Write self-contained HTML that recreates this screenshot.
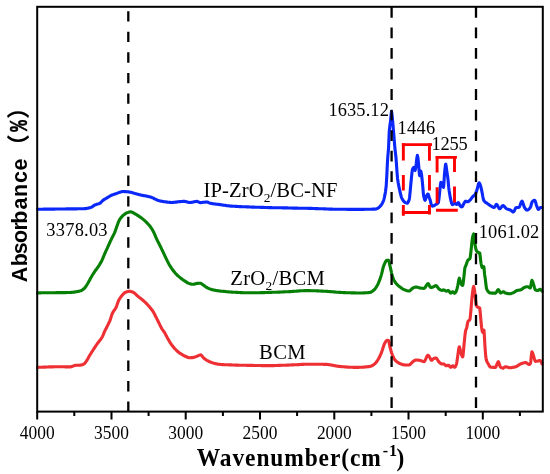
<!DOCTYPE html>
<html><head><meta charset="utf-8"><title>FTIR spectra</title>
<style>
html,body{margin:0;padding:0;background:#fff;}
body{width:550px;height:474px;overflow:hidden;}
svg{display:block;}
.ser{font-family:"Liberation Serif","Noto Serif CJK SC",serif;fill:#000;}
.san{font-family:"Liberation Sans","Noto Sans CJK SC",sans-serif;fill:#000;font-weight:bold;}
</style></head><body>
<svg width="550" height="474" viewBox="0 0 550 474">
<rect width="550" height="474" fill="#fff"/>

<g fill="none" stroke-linejoin="round" stroke-linecap="round" stroke-width="3.1">
<path stroke="#ee3034" d="M37.6,367.4 L38.2,367.4 L38.8,367.3 L39.4,367.3 L40.0,367.3 L40.6,367.3 L41.2,367.2 L41.8,367.2 L42.4,367.2 L43.0,367.1 L43.6,367.1 L44.2,367.1 L44.8,367.1 L45.4,367.1 L46.0,367.0 L46.6,367.0 L47.2,367.0 L47.8,367.0 L48.4,367.0 L49.0,366.9 L49.6,366.9 L50.2,366.9 L50.8,366.9 L51.4,366.9 L52.0,366.9 L52.6,366.9 L53.2,366.9 L53.8,366.8 L54.4,366.8 L55.0,366.8 L55.6,366.8 L56.2,366.8 L56.8,366.8 L57.4,366.8 L58.0,366.8 L58.6,366.8 L59.2,366.8 L59.8,366.8 L60.0,366.8 L60.4,366.8 L61.0,366.8 L61.6,366.8 L62.2,366.8 L62.8,366.8 L63.4,366.8 L64.0,366.8 L64.6,366.8 L65.2,366.9 L65.8,366.9 L66.4,366.9 L67.0,366.9 L67.6,366.9 L68.2,366.9 L68.8,366.9 L69.4,366.9 L70.0,366.9 L70.0,366.9 L70.6,366.9 L71.2,366.7 L71.8,366.6 L72.4,366.3 L73.0,366.1 L73.6,365.9 L74.2,365.7 L74.8,365.5 L75.4,365.3 L75.8,365.3 L76.0,365.3 L76.6,365.3 L77.2,365.2 L77.8,365.2 L78.4,365.2 L79.0,365.2 L79.6,365.2 L80.2,365.1 L80.8,365.1 L80.9,365.1 L81.4,365.0 L82.0,364.9 L82.6,364.6 L83.2,364.3 L83.8,364.0 L83.8,364.0 L84.4,363.6 L85.0,362.9 L85.6,362.2 L86.2,361.4 L86.7,360.7 L86.8,360.6 L87.4,359.5 L88.0,358.4 L88.6,357.2 L88.9,356.7 L89.2,356.2 L89.8,355.2 L90.4,354.2 L91.0,353.3 L91.6,352.3 L91.8,352.0 L92.2,351.4 L92.8,350.5 L93.4,349.5 L94.0,348.6 L94.6,347.7 L94.7,347.6 L95.2,346.8 L95.8,345.9 L96.4,345.0 L97.0,344.1 L97.6,343.3 L97.6,343.3 L98.2,342.5 L98.8,341.8 L99.4,341.0 L100.0,340.3 L100.5,339.6 L100.6,339.5 L101.2,338.6 L101.8,337.7 L102.2,337.0 L102.4,336.6 L103.0,335.3 L103.6,333.8 L104.2,332.3 L104.5,331.6 L104.8,331.0 L105.4,329.8 L106.0,328.7 L106.6,327.6 L107.2,326.4 L107.5,325.8 L107.8,325.2 L108.4,323.9 L109.0,322.6 L109.6,321.3 L110.2,319.8 L110.4,319.3 L110.8,318.1 L111.4,316.1 L112.0,314.3 L112.3,313.5 L112.6,312.9 L113.2,311.8 L113.6,311.2 L113.8,310.9 L114.4,310.0 L115.0,309.2 L115.6,308.3 L116.0,307.6 L116.2,307.2 L116.8,305.6 L117.4,303.8 L118.0,302.0 L118.5,300.8 L118.6,300.6 L119.2,299.5 L119.8,298.5 L120.4,297.6 L121.0,296.8 L121.6,296.0 L121.6,296.0 L122.2,295.3 L122.8,294.6 L123.4,293.9 L124.0,293.3 L124.6,292.8 L125.2,292.4 L125.3,292.4 L125.8,292.2 L126.4,292.0 L127.0,291.8 L127.6,291.6 L128.2,291.4 L128.8,291.4 L129.4,291.3 L129.6,291.3 L130.0,291.3 L130.6,291.4 L131.2,291.6 L131.8,291.8 L132.4,292.0 L133.0,292.3 L133.3,292.4 L133.6,292.5 L134.2,292.9 L134.8,293.4 L135.4,293.9 L136.0,294.5 L136.6,295.1 L137.2,295.7 L137.6,296.0 L137.8,296.2 L138.4,296.6 L139.0,297.1 L139.6,297.6 L140.2,298.1 L140.8,298.5 L141.0,298.7 L141.4,299.0 L142.0,299.5 L142.6,300.0 L143.2,300.5 L143.8,301.0 L144.4,301.6 L145.0,302.1 L145.1,302.2 L145.6,302.7 L146.2,303.3 L146.8,303.9 L147.4,304.5 L148.0,305.2 L148.6,305.9 L149.2,306.5 L149.5,306.9 L149.8,307.3 L150.4,308.0 L151.0,308.7 L151.6,309.5 L152.2,310.3 L152.8,311.1 L153.1,311.6 L153.4,312.1 L154.0,313.2 L154.6,314.3 L155.2,315.5 L155.8,316.7 L156.0,317.1 L156.4,317.9 L157.0,319.1 L157.6,320.3 L158.2,321.5 L158.8,322.7 L158.9,322.9 L159.4,323.9 L160.0,325.2 L160.6,326.4 L161.2,327.6 L161.8,328.7 L162.0,329.0 L162.4,329.6 L163.0,330.4 L163.6,331.2 L164.2,332.0 L164.5,332.5 L164.8,333.0 L165.4,334.0 L166.0,335.2 L166.6,336.3 L167.2,337.5 L167.8,338.6 L168.1,339.1 L168.4,339.6 L169.0,340.6 L169.6,341.7 L170.2,342.7 L170.8,343.6 L171.4,344.5 L171.7,344.9 L172.0,345.3 L172.6,346.1 L173.2,346.8 L173.8,347.6 L174.4,348.2 L175.0,348.9 L175.6,349.5 L176.1,350.0 L176.2,350.1 L176.8,350.7 L177.4,351.2 L178.0,351.7 L178.6,352.2 L179.2,352.7 L179.8,353.1 L180.4,353.5 L180.5,353.6 L181.0,353.9 L181.6,354.3 L182.2,354.7 L182.8,355.0 L183.4,355.4 L184.0,355.7 L184.6,356.0 L185.2,356.3 L185.3,356.3 L185.8,356.5 L186.4,356.8 L187.0,357.0 L187.6,357.3 L188.2,357.5 L188.8,357.6 L189.4,357.7 L189.6,357.7 L190.0,357.7 L190.6,357.7 L191.2,357.6 L191.8,357.6 L192.4,357.6 L193.0,357.5 L193.0,357.5 L193.6,357.4 L194.2,357.3 L194.8,357.1 L195.4,356.8 L196.0,356.6 L196.6,356.4 L196.6,356.4 L197.2,356.2 L197.8,355.9 L198.4,355.6 L199.0,355.3 L199.6,355.1 L200.2,354.9 L200.6,354.9 L200.8,354.9 L201.4,355.3 L202.0,355.9 L202.6,356.7 L203.2,357.5 L203.8,358.1 L203.9,358.2 L204.4,358.6 L205.0,359.0 L205.6,359.5 L206.2,359.9 L206.8,360.3 L207.4,360.6 L208.0,360.9 L208.3,361.1 L208.6,361.2 L209.2,361.5 L209.8,361.8 L210.4,362.1 L211.0,362.3 L211.6,362.5 L212.2,362.7 L212.8,362.9 L213.4,363.1 L214.0,363.3 L214.1,363.3 L214.6,363.4 L215.2,363.6 L215.8,363.7 L216.4,363.8 L217.0,364.0 L217.6,364.1 L218.2,364.2 L218.8,364.3 L219.4,364.3 L219.9,364.4 L220.0,364.4 L220.6,364.5 L221.2,364.5 L221.8,364.5 L222.4,364.6 L223.0,364.6 L223.6,364.6 L224.2,364.7 L224.8,364.7 L225.0,364.7 L225.4,364.7 L226.0,364.7 L226.6,364.8 L227.2,364.8 L227.8,364.8 L228.4,364.8 L229.0,364.9 L229.6,364.9 L230.0,364.9 L230.2,364.9 L230.8,364.9 L231.4,364.9 L232.0,365.0 L232.6,365.0 L233.2,365.0 L233.8,365.0 L234.4,365.0 L235.0,365.1 L235.6,365.1 L236.2,365.1 L236.8,365.1 L237.4,365.1 L238.0,365.1 L238.6,365.2 L239.2,365.2 L239.8,365.2 L240.4,365.2 L241.0,365.2 L241.6,365.2 L242.2,365.2 L242.8,365.3 L243.4,365.3 L244.0,365.3 L244.6,365.3 L245.2,365.3 L245.8,365.3 L246.4,365.3 L247.0,365.4 L247.6,365.4 L248.2,365.4 L248.8,365.4 L249.4,365.4 L250.0,365.4 L250.0,365.4 L250.6,365.4 L251.2,365.4 L251.8,365.4 L252.4,365.4 L253.0,365.4 L253.6,365.5 L254.2,365.5 L254.8,365.5 L255.4,365.5 L256.0,365.5 L256.6,365.5 L257.2,365.5 L257.8,365.5 L258.4,365.5 L259.0,365.5 L259.6,365.5 L260.2,365.5 L260.8,365.5 L261.4,365.6 L262.0,365.6 L262.6,365.6 L263.2,365.6 L263.8,365.6 L264.4,365.6 L265.0,365.6 L265.6,365.6 L266.2,365.6 L266.8,365.6 L267.4,365.6 L268.0,365.6 L268.6,365.6 L269.2,365.6 L269.8,365.6 L270.0,365.6 L270.4,365.6 L271.0,365.6 L271.6,365.6 L272.2,365.6 L272.8,365.6 L273.4,365.6 L274.0,365.6 L274.6,365.5 L275.2,365.5 L275.8,365.5 L276.4,365.5 L277.0,365.5 L277.6,365.5 L278.2,365.4 L278.8,365.4 L279.4,365.4 L280.0,365.4 L280.6,365.4 L281.2,365.3 L281.8,365.3 L282.4,365.3 L283.0,365.3 L283.6,365.2 L284.2,365.2 L284.8,365.2 L285.4,365.2 L286.0,365.2 L286.6,365.1 L287.2,365.1 L287.8,365.1 L288.4,365.1 L289.0,365.0 L289.6,365.0 L290.0,365.0 L290.2,365.0 L290.8,365.0 L291.4,364.9 L292.0,364.9 L292.6,364.9 L293.2,364.9 L293.8,364.8 L294.4,364.8 L295.0,364.8 L295.6,364.7 L296.2,364.7 L296.8,364.7 L297.4,364.7 L298.0,364.6 L298.6,364.6 L299.2,364.6 L299.8,364.5 L300.4,364.5 L301.0,364.5 L301.6,364.4 L302.2,364.4 L302.8,364.4 L303.4,364.4 L304.0,364.3 L304.6,364.3 L305.2,364.3 L305.8,364.3 L306.4,364.3 L307.0,364.2 L307.6,364.2 L308.2,364.2 L308.8,364.2 L309.4,364.2 L310.0,364.2 L310.0,364.2 L310.6,364.2 L311.2,364.2 L311.8,364.2 L312.4,364.2 L313.0,364.2 L313.6,364.2 L314.2,364.2 L314.8,364.2 L315.4,364.2 L316.0,364.2 L316.6,364.2 L317.2,364.2 L317.8,364.3 L318.4,364.3 L319.0,364.3 L319.6,364.3 L320.2,364.3 L320.8,364.3 L321.4,364.3 L322.0,364.3 L322.6,364.3 L323.2,364.3 L323.8,364.4 L324.4,364.4 L325.0,364.4 L325.6,364.4 L326.0,364.4 L326.2,364.4 L326.8,364.4 L327.4,364.5 L328.0,364.5 L328.6,364.6 L329.2,364.7 L329.8,364.8 L330.4,364.9 L331.0,365.0 L331.6,365.1 L332.2,365.2 L332.8,365.3 L333.4,365.4 L334.0,365.5 L334.6,365.7 L335.2,365.8 L335.8,365.9 L336.4,366.0 L337.0,366.1 L337.6,366.2 L338.2,366.3 L338.8,366.4 L339.4,366.4 L340.0,366.5 L340.0,366.5 L340.6,366.5 L341.2,366.6 L341.8,366.6 L342.4,366.7 L343.0,366.7 L343.6,366.8 L344.2,366.8 L344.8,366.9 L345.4,366.9 L346.0,367.0 L346.6,367.0 L347.2,367.1 L347.8,367.1 L348.4,367.1 L349.0,367.2 L349.6,367.2 L350.2,367.2 L350.8,367.3 L351.4,367.3 L352.0,367.3 L352.6,367.3 L353.2,367.4 L353.8,367.4 L354.4,367.4 L355.0,367.4 L355.6,367.4 L356.0,367.4 L356.2,367.4 L356.8,367.4 L357.4,367.4 L358.0,367.4 L358.6,367.4 L359.2,367.3 L359.8,367.3 L360.4,367.3 L361.0,367.3 L361.6,367.2 L362.2,367.2 L362.8,367.2 L363.4,367.1 L364.0,367.1 L364.6,367.0 L365.2,367.0 L365.8,366.9 L366.4,366.9 L367.0,366.8 L367.6,366.7 L368.2,366.6 L368.8,366.6 L369.4,366.5 L370.0,366.4 L370.0,366.4 L370.6,366.3 L371.2,366.1 L371.8,365.8 L372.4,365.5 L373.0,365.1 L373.6,364.7 L374.2,364.2 L374.8,363.8 L375.0,363.6 L375.4,363.2 L376.0,362.6 L376.6,361.8 L377.2,361.0 L377.8,360.0 L378.4,359.0 L379.0,358.0 L379.0,358.0 L379.6,356.8 L380.2,355.5 L380.8,354.1 L381.4,352.6 L382.0,351.0 L382.0,351.0 L382.6,349.2 L383.2,347.3 L383.8,345.4 L384.4,344.0 L384.4,344.0 L385.0,342.8 L385.6,341.8 L386.2,340.9 L386.8,340.4 L387.0,340.4 L387.4,340.4 L388.0,340.5 L388.5,340.6 L388.6,340.7 L389.2,342.9 L389.8,346.1 L390.0,347.0 L390.4,348.5 L391.0,350.7 L391.6,352.7 L392.2,354.5 L392.4,355.0 L392.8,356.0 L393.4,357.3 L394.0,358.5 L394.6,359.5 L395.0,360.0 L395.2,360.2 L395.8,360.8 L396.4,361.4 L397.0,361.9 L397.6,362.3 L398.2,362.7 L398.8,363.0 L399.4,363.3 L400.0,363.6 L400.0,363.6 L400.6,363.8 L401.2,364.1 L401.8,364.3 L402.4,364.5 L403.0,364.7 L403.6,364.8 L404.2,364.9 L404.8,365.0 L405.0,365.0 L405.4,365.0 L406.0,365.0 L406.6,365.0 L407.2,365.0 L407.8,365.0 L408.4,365.0 L409.0,365.0 L409.0,365.0 L409.6,364.8 L410.2,364.4 L410.8,363.8 L411.4,363.2 L412.0,362.5 L412.6,361.9 L413.0,361.6 L413.2,361.5 L413.8,361.0 L414.4,360.6 L415.0,360.3 L415.6,360.0 L416.0,360.0 L416.2,360.0 L416.8,360.0 L417.4,360.1 L418.0,360.1 L418.6,360.2 L419.2,360.3 L419.8,360.4 L420.0,360.4 L420.4,360.5 L421.0,360.7 L421.6,360.9 L422.2,361.2 L422.8,361.4 L423.4,361.5 L424.0,361.6 L424.0,361.6 L424.6,361.2 L425.2,360.2 L425.8,358.9 L426.4,357.5 L427.0,356.2 L427.6,355.4 L428.0,355.2 L428.2,355.2 L428.8,355.9 L429.4,356.9 L429.8,357.5 L430.0,357.8 L430.6,359.2 L431.2,360.2 L431.4,360.3 L431.8,360.2 L432.4,359.7 L433.0,359.1 L433.6,358.6 L434.0,358.4 L434.2,358.3 L434.8,358.2 L435.4,358.0 L436.0,358.0 L436.0,358.0 L436.6,358.3 L437.2,359.2 L437.8,360.2 L438.4,361.2 L439.0,362.0 L439.0,362.0 L439.6,362.5 L440.2,363.1 L440.8,363.6 L441.4,363.9 L442.0,364.0 L442.0,364.0 L442.6,364.0 L443.2,363.9 L443.4,363.9 L443.8,364.0 L444.4,364.4 L445.0,364.9 L445.6,365.5 L446.2,365.8 L446.4,365.8 L446.8,365.7 L447.4,365.5 L448.0,365.2 L448.3,365.2 L448.6,365.3 L449.2,365.8 L449.8,366.6 L450.4,367.2 L450.8,367.3 L451.0,367.3 L451.6,366.7 L452.2,366.1 L452.7,365.8 L452.8,365.8 L453.4,366.3 L454.0,366.9 L454.6,367.3 L454.6,367.3 L455.2,366.9 L455.8,365.8 L456.4,364.2 L456.5,363.9 L457.0,361.3 L457.6,356.9 L457.8,355.6 L458.2,352.7 L458.8,348.3 L459.3,346.7 L459.4,346.7 L460.0,348.6 L460.6,351.5 L461.0,353.1 L461.2,353.7 L461.8,355.5 L462.4,356.7 L462.7,356.9 L463.0,355.9 L463.6,349.8 L464.2,342.9 L464.2,342.9 L464.8,336.8 L465.4,331.7 L465.5,331.2 L466.0,329.6 L466.6,328.0 L466.7,327.7 L467.2,325.1 L467.8,322.0 L468.0,321.4 L468.4,320.9 L469.0,320.5 L469.6,320.0 L469.9,319.5 L470.2,317.9 L470.8,311.6 L470.9,310.5 L471.4,304.5 L472.0,297.4 L472.1,296.5 L472.6,292.2 L473.2,287.8 L473.7,286.4 L473.8,286.5 L474.4,289.4 L475.0,294.0 L475.0,294.0 L475.6,300.0 L476.2,305.2 L476.3,305.5 L476.8,306.3 L477.4,306.9 L478.0,307.3 L478.2,307.4 L478.6,307.6 L479.2,307.7 L479.7,308.0 L479.8,308.3 L480.4,314.5 L480.7,318.2 L481.0,321.5 L481.6,327.5 L481.6,327.5 L482.2,331.2 L482.6,332.3 L482.8,332.2 L483.4,331.0 L484.0,330.2 L484.0,330.2 L484.6,339.8 L484.9,345.5 L485.2,349.6 L485.8,356.8 L486.2,359.5 L486.4,360.2 L487.0,361.7 L487.6,362.8 L488.2,363.7 L488.3,363.9 L488.8,364.8 L489.4,365.9 L490.0,366.8 L490.6,367.2 L490.6,367.2 L491.2,367.3 L491.8,367.3 L492.4,367.3 L493.0,367.4 L493.6,367.4 L494.2,367.4 L494.8,367.4 L495.3,367.4 L495.4,367.4 L496.0,366.7 L496.6,365.2 L497.2,363.6 L497.8,362.3 L498.4,361.7 L498.4,361.7 L499.0,362.8 L499.6,365.1 L500.2,366.8 L500.3,366.9 L500.8,367.3 L501.4,367.7 L502.0,367.9 L502.6,368.1 L502.9,368.1 L503.2,368.1 L503.8,367.7 L504.4,367.3 L505.0,366.9 L505.5,366.8 L505.6,366.8 L506.2,366.9 L506.8,367.0 L507.4,367.2 L508.0,367.3 L508.6,367.5 L509.2,367.6 L509.8,367.7 L509.9,367.7 L510.4,367.7 L511.0,367.7 L511.6,367.6 L512.2,367.5 L512.8,367.4 L513.4,367.3 L514.0,367.2 L514.6,367.0 L515.2,366.9 L515.6,366.8 L515.8,366.7 L516.4,366.5 L517.0,366.2 L517.6,365.8 L518.2,365.4 L518.8,365.0 L519.4,364.6 L520.0,364.2 L520.6,363.9 L520.7,363.9 L521.2,363.7 L521.8,363.5 L522.4,363.3 L523.0,363.1 L523.6,362.9 L524.2,362.8 L524.8,362.7 L525.4,362.6 L525.8,362.6 L526.0,362.6 L526.6,362.9 L527.2,363.4 L527.8,363.9 L528.4,364.3 L529.0,364.5 L529.0,364.5 L529.6,364.3 L530.2,363.7 L530.5,363.3 L530.8,361.7 L531.4,355.0 L531.9,351.8 L532.0,351.8 L532.6,352.9 L533.2,354.7 L533.5,355.6 L533.8,356.6 L534.4,358.9 L535.0,360.9 L535.4,361.4 L535.6,361.4 L536.2,361.3 L536.8,361.2 L537.4,361.1 L537.9,361.0 L538.0,361.0 L538.6,360.8 L539.2,360.6 L539.8,360.5 L539.8,360.5 L540.4,360.8 L541.0,361.7 L541.6,362.9 L542.0,363.9"/>
<path stroke="#058005" d="M37.6,292.9 L38.2,292.9 L38.8,292.9 L39.4,292.9 L40.0,292.9 L40.6,292.9 L41.2,292.8 L41.8,292.8 L42.4,292.8 L43.0,292.8 L43.6,292.8 L44.2,292.8 L44.8,292.8 L45.4,292.8 L46.0,292.8 L46.6,292.8 L47.2,292.8 L47.8,292.8 L48.4,292.7 L49.0,292.7 L49.6,292.7 L50.2,292.7 L50.8,292.7 L51.4,292.7 L52.0,292.7 L52.6,292.7 L53.2,292.7 L53.8,292.7 L54.4,292.7 L55.0,292.7 L55.6,292.7 L56.2,292.6 L56.8,292.6 L57.4,292.6 L58.0,292.6 L58.6,292.6 L59.2,292.6 L59.8,292.6 L60.0,292.6 L60.4,292.6 L61.0,292.6 L61.6,292.6 L62.2,292.6 L62.8,292.6 L63.4,292.6 L64.0,292.6 L64.6,292.6 L65.2,292.6 L65.8,292.6 L66.4,292.5 L67.0,292.5 L67.6,292.5 L68.2,292.5 L68.8,292.5 L69.4,292.5 L70.0,292.5 L70.0,292.5 L70.6,292.5 L71.2,292.4 L71.8,292.4 L72.4,292.3 L73.0,292.2 L73.6,292.1 L74.2,292.1 L74.8,292.0 L75.4,291.9 L75.8,291.8 L76.0,291.8 L76.6,291.7 L77.2,291.6 L77.8,291.5 L78.4,291.4 L79.0,291.2 L79.6,291.1 L80.2,290.9 L80.8,290.7 L80.9,290.7 L81.4,290.5 L82.0,290.2 L82.6,289.8 L83.2,289.3 L83.8,288.8 L84.4,288.3 L84.5,288.2 L85.0,287.7 L85.6,286.9 L86.2,285.9 L86.8,285.0 L87.4,284.0 L87.5,283.8 L88.0,283.0 L88.6,281.9 L89.2,280.8 L89.8,279.7 L90.4,278.5 L91.0,277.5 L91.1,277.3 L91.6,276.5 L92.2,275.4 L92.8,274.5 L93.4,273.5 L94.0,272.6 L94.6,271.6 L94.7,271.5 L95.2,270.8 L95.8,270.0 L96.4,269.2 L97.0,268.4 L97.6,267.5 L98.2,266.7 L98.4,266.4 L98.8,265.8 L99.4,264.9 L100.0,263.9 L100.6,262.9 L101.2,261.9 L101.4,261.5 L101.8,260.7 L102.4,259.4 L103.0,257.9 L103.6,256.4 L104.2,255.0 L104.7,253.8 L104.8,253.6 L105.4,252.2 L106.0,250.9 L106.6,249.6 L107.2,248.3 L107.8,246.9 L108.0,246.5 L108.4,245.6 L109.0,244.3 L109.6,243.0 L110.2,241.7 L110.8,240.4 L111.3,239.3 L111.4,239.1 L112.0,237.9 L112.6,236.7 L113.2,235.6 L113.8,234.4 L114.4,233.2 L114.9,232.0 L115.0,231.8 L115.6,230.1 L116.2,228.3 L116.8,226.6 L117.0,226.0 L117.4,224.9 L118.0,223.2 L118.6,221.6 L119.1,220.6 L119.2,220.4 L119.8,219.4 L120.4,218.5 L121.0,217.7 L121.6,216.9 L122.2,216.3 L122.8,215.7 L123.0,215.5 L123.4,215.1 L124.0,214.6 L124.6,214.2 L125.2,213.7 L125.8,213.4 L126.4,213.0 L127.0,212.8 L127.0,212.8 L127.6,212.6 L128.2,212.4 L128.8,212.2 L129.4,212.0 L130.0,211.9 L130.6,211.9 L130.7,211.9 L131.2,211.9 L131.8,212.1 L132.4,212.3 L133.0,212.7 L133.6,213.0 L134.2,213.4 L134.8,213.7 L135.0,213.8 L135.4,214.0 L136.0,214.4 L136.6,214.7 L137.2,215.1 L137.8,215.5 L138.4,215.9 L139.0,216.3 L139.1,216.4 L139.6,216.7 L140.2,217.1 L140.8,217.5 L141.4,217.9 L141.5,218.0 L142.0,218.4 L142.6,218.9 L143.2,219.4 L143.8,219.9 L144.4,220.4 L145.0,220.9 L145.6,221.5 L146.2,222.1 L146.5,222.4 L146.8,222.7 L147.4,223.3 L148.0,224.0 L148.6,224.6 L149.2,225.3 L149.8,226.0 L150.4,226.8 L150.9,227.5 L151.0,227.6 L151.6,228.5 L152.2,229.5 L152.8,230.6 L153.4,231.7 L153.8,232.5 L154.0,232.9 L154.6,234.2 L155.2,235.6 L155.8,237.1 L156.4,238.4 L156.7,239.1 L157.0,239.7 L157.6,241.0 L158.2,242.1 L158.8,243.3 L159.4,244.5 L159.6,244.9 L160.0,245.7 L160.6,246.9 L161.2,248.1 L161.8,249.4 L162.4,250.6 L162.6,251.0 L163.0,251.8 L163.6,253.1 L164.2,254.4 L164.8,255.7 L165.2,256.5 L165.4,256.9 L166.0,258.2 L166.6,259.4 L167.2,260.7 L167.8,261.9 L168.4,263.1 L168.8,263.8 L169.0,264.2 L169.6,265.2 L170.2,266.2 L170.8,267.1 L171.4,268.0 L172.0,268.9 L172.5,269.6 L172.6,269.7 L173.2,270.5 L173.8,271.3 L174.4,272.1 L175.0,272.8 L175.6,273.5 L176.1,274.0 L176.2,274.1 L176.8,274.7 L177.4,275.3 L178.0,275.9 L178.6,276.4 L179.2,276.9 L179.8,277.4 L180.4,277.9 L180.5,278.0 L181.0,278.4 L181.6,278.8 L182.2,279.3 L182.8,279.7 L183.4,280.1 L184.0,280.5 L184.6,280.9 L185.2,281.2 L185.3,281.3 L185.8,281.6 L186.4,282.0 L187.0,282.5 L187.6,282.8 L188.2,283.1 L188.6,283.3 L188.8,283.4 L189.4,283.6 L190.0,283.8 L190.6,283.9 L191.2,284.1 L191.8,284.2 L192.4,284.3 L193.0,284.3 L193.0,284.3 L193.6,284.3 L194.2,284.1 L194.8,284.0 L195.4,283.8 L196.0,283.6 L196.6,283.5 L196.6,283.5 L197.2,283.4 L197.8,283.4 L198.4,283.3 L199.0,283.2 L199.6,283.2 L200.2,283.2 L200.3,283.2 L200.8,283.3 L201.4,283.6 L202.0,284.1 L202.6,284.6 L203.2,285.0 L203.2,285.0 L203.8,285.4 L204.4,285.9 L205.0,286.3 L205.6,286.7 L206.2,287.1 L206.8,287.5 L206.8,287.5 L207.4,287.8 L208.0,288.1 L208.6,288.4 L209.2,288.7 L209.8,288.9 L210.4,289.1 L211.0,289.3 L211.2,289.4 L211.6,289.5 L212.2,289.7 L212.8,289.8 L213.4,290.0 L214.0,290.1 L214.6,290.2 L215.2,290.3 L215.8,290.4 L216.3,290.5 L216.4,290.5 L217.0,290.6 L217.6,290.7 L218.2,290.8 L218.8,290.9 L219.4,291.0 L220.0,291.0 L220.6,291.1 L221.2,291.2 L221.4,291.2 L221.8,291.2 L222.4,291.3 L223.0,291.3 L223.6,291.4 L224.2,291.4 L224.8,291.5 L225.0,291.5 L225.4,291.5 L226.0,291.6 L226.6,291.7 L227.2,291.7 L227.8,291.8 L228.4,291.9 L229.0,291.9 L229.6,292.0 L230.0,292.0 L230.2,292.0 L230.8,292.0 L231.4,292.1 L232.0,292.1 L232.6,292.2 L233.2,292.2 L233.8,292.2 L234.4,292.3 L235.0,292.3 L235.6,292.3 L236.2,292.4 L236.8,292.4 L237.4,292.4 L238.0,292.5 L238.6,292.5 L239.2,292.5 L239.8,292.5 L240.4,292.6 L241.0,292.6 L241.6,292.6 L242.2,292.6 L242.8,292.7 L243.4,292.7 L244.0,292.7 L244.6,292.7 L245.2,292.7 L245.8,292.8 L246.4,292.8 L247.0,292.8 L247.6,292.8 L248.2,292.8 L248.8,292.8 L249.4,292.8 L250.0,292.8 L250.0,292.8 L250.6,292.8 L251.2,292.8 L251.8,292.8 L252.4,292.8 L253.0,292.8 L253.6,292.8 L254.2,292.8 L254.8,292.8 L255.4,292.8 L256.0,292.7 L256.6,292.7 L257.2,292.7 L257.8,292.7 L258.4,292.7 L259.0,292.7 L259.6,292.7 L260.2,292.7 L260.8,292.6 L261.4,292.6 L262.0,292.6 L262.6,292.6 L263.2,292.6 L263.8,292.6 L264.4,292.6 L265.0,292.5 L265.6,292.5 L266.2,292.5 L266.8,292.5 L267.4,292.5 L268.0,292.5 L268.6,292.4 L269.2,292.4 L269.8,292.4 L270.0,292.4 L270.4,292.4 L271.0,292.4 L271.6,292.4 L272.2,292.3 L272.8,292.3 L273.4,292.3 L274.0,292.3 L274.6,292.3 L275.2,292.2 L275.8,292.2 L276.4,292.2 L277.0,292.2 L277.6,292.2 L278.2,292.1 L278.8,292.1 L279.4,292.1 L280.0,292.1 L280.6,292.0 L281.2,292.0 L281.8,292.0 L282.4,292.0 L283.0,291.9 L283.6,291.9 L284.2,291.9 L284.8,291.8 L285.4,291.8 L286.0,291.8 L286.6,291.8 L287.2,291.7 L287.8,291.7 L288.4,291.7 L289.0,291.6 L289.6,291.6 L290.0,291.6 L290.2,291.6 L290.8,291.6 L291.4,291.5 L292.0,291.5 L292.6,291.4 L293.2,291.4 L293.8,291.3 L294.4,291.3 L295.0,291.3 L295.6,291.2 L296.2,291.2 L296.8,291.1 L297.4,291.1 L298.0,291.0 L298.6,291.0 L299.2,290.9 L299.8,290.9 L300.4,290.8 L301.0,290.8 L301.6,290.7 L302.2,290.7 L302.8,290.7 L303.4,290.7 L304.0,290.6 L304.6,290.6 L305.2,290.6 L305.8,290.6 L306.0,290.6 L306.4,290.6 L307.0,290.6 L307.6,290.6 L308.2,290.6 L308.8,290.6 L309.4,290.6 L310.0,290.6 L310.6,290.7 L311.2,290.7 L311.8,290.7 L312.4,290.7 L313.0,290.7 L313.6,290.8 L314.2,290.8 L314.8,290.8 L315.4,290.8 L316.0,290.8 L316.6,290.9 L317.2,290.9 L317.8,290.9 L318.4,290.9 L319.0,291.0 L319.6,291.0 L320.0,291.0 L320.2,291.0 L320.8,291.0 L321.4,291.1 L322.0,291.1 L322.6,291.1 L323.2,291.2 L323.8,291.2 L324.4,291.2 L325.0,291.3 L325.6,291.3 L326.2,291.3 L326.8,291.4 L327.4,291.4 L328.0,291.5 L328.6,291.5 L329.2,291.5 L329.8,291.6 L330.0,291.6 L330.4,291.6 L331.0,291.7 L331.6,291.7 L332.2,291.8 L332.8,291.8 L333.4,291.9 L334.0,291.9 L334.6,292.0 L335.2,292.0 L335.8,292.1 L336.4,292.2 L337.0,292.2 L337.6,292.3 L338.2,292.3 L338.8,292.3 L339.4,292.4 L340.0,292.4 L340.0,292.4 L340.6,292.4 L341.2,292.5 L341.8,292.5 L342.4,292.5 L343.0,292.5 L343.6,292.6 L344.2,292.6 L344.8,292.6 L345.4,292.6 L346.0,292.7 L346.6,292.7 L347.2,292.7 L347.8,292.7 L348.4,292.8 L349.0,292.8 L349.6,292.8 L350.2,292.8 L350.8,292.8 L351.4,292.9 L352.0,292.9 L352.6,292.9 L353.2,292.9 L353.8,292.9 L354.4,292.9 L355.0,292.9 L355.6,293.0 L356.2,293.0 L356.8,293.0 L357.4,293.0 L358.0,293.0 L358.6,293.0 L359.2,293.0 L359.8,293.0 L360.0,293.0 L360.4,293.0 L361.0,293.0 L361.6,293.0 L362.2,293.0 L362.8,293.0 L363.4,292.9 L364.0,292.9 L364.6,292.9 L365.2,292.8 L365.8,292.8 L366.4,292.8 L367.0,292.7 L367.6,292.7 L368.2,292.6 L368.8,292.5 L369.4,292.5 L370.0,292.4 L370.0,292.4 L370.6,292.3 L371.2,292.0 L371.8,291.7 L372.4,291.3 L373.0,290.8 L373.6,290.3 L374.0,290.0 L374.2,289.8 L374.8,289.2 L375.4,288.4 L376.0,287.5 L376.6,286.6 L377.2,285.5 L377.8,284.4 L378.0,284.0 L378.4,283.2 L379.0,281.7 L379.6,280.2 L380.2,278.4 L380.8,276.6 L381.0,276.0 L381.4,274.6 L382.0,272.3 L382.6,269.8 L383.2,267.4 L383.8,265.5 L384.0,265.0 L384.4,264.1 L385.0,262.8 L385.6,261.6 L386.2,260.7 L386.8,260.2 L387.0,260.2 L387.4,260.2 L388.0,260.3 L388.6,260.4 L388.6,260.4 L389.2,262.1 L389.8,265.1 L390.0,266.0 L390.4,267.7 L391.0,270.4 L391.6,273.1 L392.2,275.4 L392.4,276.0 L392.8,277.2 L393.4,278.8 L394.0,280.2 L394.6,281.4 L395.0,282.0 L395.2,282.3 L395.8,283.1 L396.4,283.8 L397.0,284.4 L397.6,285.0 L398.2,285.6 L398.8,286.1 L399.4,286.5 L400.0,287.0 L400.0,287.0 L400.6,287.4 L401.2,287.9 L401.8,288.3 L402.4,288.7 L403.0,289.1 L403.6,289.4 L404.2,289.7 L404.8,289.9 L405.0,290.0 L405.4,290.1 L406.0,290.4 L406.6,290.6 L407.2,290.7 L407.8,290.9 L408.4,291.0 L409.0,291.0 L409.0,291.0 L409.6,290.9 L410.2,290.5 L410.8,289.9 L411.4,289.3 L412.0,288.7 L412.6,288.2 L413.0,288.0 L413.2,287.9 L413.8,287.6 L414.4,287.4 L415.0,287.2 L415.6,287.0 L416.0,287.0 L416.2,287.0 L416.8,287.1 L417.4,287.2 L418.0,287.4 L418.6,287.6 L419.2,287.8 L419.8,288.0 L420.0,288.0 L420.4,288.1 L421.0,288.1 L421.6,288.2 L422.2,288.3 L422.8,288.3 L423.4,288.4 L424.0,288.4 L424.0,288.4 L424.6,288.1 L425.2,287.4 L425.8,286.4 L426.4,285.4 L427.0,284.5 L427.6,283.8 L428.1,283.6 L428.2,283.6 L428.8,284.3 L429.4,285.7 L430.0,286.9 L430.6,287.5 L430.6,287.5 L431.2,287.5 L431.8,287.3 L432.4,287.2 L433.0,287.0 L433.0,287.0 L433.6,286.7 L434.2,286.4 L434.8,286.0 L435.4,285.7 L436.0,285.6 L436.0,285.6 L436.6,285.9 L437.2,286.6 L437.8,287.5 L438.4,288.4 L439.0,289.0 L439.0,289.0 L439.6,289.4 L440.2,289.8 L440.8,290.1 L441.4,290.3 L442.0,290.4 L442.0,290.4 L442.6,290.3 L443.2,290.0 L443.8,289.9 L443.8,289.9 L444.4,290.1 L445.0,290.5 L445.6,290.9 L446.2,291.2 L446.4,291.2 L446.8,291.1 L447.4,290.8 L448.0,290.5 L448.3,290.5 L448.6,290.6 L449.2,291.3 L449.8,292.2 L450.4,292.9 L450.8,293.1 L451.0,293.1 L451.6,292.6 L452.2,292.0 L452.7,291.8 L452.8,291.8 L453.4,292.3 L454.0,292.9 L454.6,293.3 L454.6,293.3 L455.2,292.9 L455.8,292.0 L456.4,290.7 L456.5,290.5 L457.0,288.9 L457.6,286.4 L457.8,285.5 L458.2,283.3 L458.8,279.6 L459.3,278.2 L459.4,278.3 L460.0,280.2 L460.6,282.5 L460.6,282.5 L461.2,283.8 L461.8,284.9 L462.4,285.5 L462.6,285.5 L463.0,284.3 L463.6,279.6 L464.2,274.0 L464.2,274.0 L464.8,268.3 L464.8,268.3 L465.4,266.5 L466.0,265.3 L466.1,265.1 L466.6,263.6 L467.2,261.7 L467.8,260.3 L468.0,260.0 L468.4,259.7 L469.0,259.4 L469.6,259.0 L469.9,258.7 L470.2,257.6 L470.8,252.8 L471.2,249.2 L471.4,247.4 L472.0,241.4 L472.5,237.7 L472.6,237.2 L473.2,234.8 L473.7,233.9 L473.8,234.1 L474.4,239.7 L474.6,241.5 L475.0,244.2 L475.6,247.9 L476.2,250.3 L476.3,250.5 L476.8,251.2 L477.4,251.9 L478.0,252.3 L478.2,252.4 L478.6,252.6 L479.2,252.7 L479.7,253.0 L479.8,253.2 L480.4,258.0 L481.0,263.2 L481.0,263.2 L481.6,266.0 L482.2,267.6 L482.3,267.6 L482.8,267.4 L483.4,266.9 L483.8,266.7 L484.0,267.6 L484.6,274.5 L484.6,274.5 L485.2,278.3 L485.3,279.0 L485.8,283.5 L486.4,288.0 L486.4,288.0 L487.0,289.8 L487.4,290.5 L487.6,290.8 L488.2,291.6 L488.8,292.2 L489.4,292.7 L490.0,293.0 L490.2,293.0 L490.6,293.0 L491.2,293.0 L491.8,293.1 L492.4,293.1 L493.0,293.1 L493.6,293.1 L494.2,293.1 L494.8,293.1 L495.3,293.1 L495.4,293.1 L496.0,292.7 L496.6,291.8 L497.2,290.8 L497.8,290.0 L498.4,289.7 L498.4,289.7 L499.0,290.3 L499.6,291.6 L500.2,292.7 L500.5,292.9 L500.8,292.9 L501.4,292.7 L502.0,292.3 L502.6,292.0 L503.2,291.8 L503.5,291.8 L503.8,291.8 L504.4,292.2 L505.0,292.7 L505.6,293.1 L506.1,293.3 L506.2,293.3 L506.8,293.4 L507.4,293.5 L508.0,293.6 L508.6,293.6 L509.2,293.7 L509.8,293.7 L509.9,293.7 L510.4,293.7 L511.0,293.6 L511.6,293.4 L512.2,293.1 L512.8,292.9 L513.4,292.6 L513.7,292.5 L514.0,292.4 L514.6,292.0 L515.2,291.5 L515.8,291.1 L516.4,290.7 L516.9,290.5 L517.0,290.5 L517.6,290.4 L518.2,290.3 L518.8,290.2 L519.4,290.1 L520.0,290.0 L520.6,289.9 L520.7,289.9 L521.2,289.7 L521.8,289.3 L522.4,288.9 L523.0,288.3 L523.6,287.9 L524.2,287.5 L524.5,287.4 L524.8,287.3 L525.4,287.1 L526.0,286.9 L526.6,286.8 L527.2,286.7 L527.7,286.7 L527.8,286.7 L528.4,286.9 L529.0,287.4 L529.6,287.8 L530.2,288.0 L530.3,288.0 L530.8,286.2 L531.4,282.2 L531.9,280.4 L532.0,280.4 L532.6,281.5 L533.2,283.3 L533.5,284.2 L533.8,285.1 L534.4,287.4 L535.0,289.3 L535.4,289.9 L535.6,290.0 L536.2,290.2 L536.8,290.4 L537.4,290.5 L537.9,290.5 L538.0,290.5 L538.6,290.1 L539.2,289.6 L539.8,289.3 L539.8,289.3 L540.4,289.4 L541.0,289.9 L541.6,290.6 L542.0,291.2"/>
<path stroke="#0a28fa" d="M37.6,209.2 L38.2,209.2 L38.8,209.2 L39.4,209.2 L40.0,209.2 L40.6,209.2 L41.2,209.2 L41.8,209.2 L42.4,209.2 L43.0,209.2 L43.6,209.1 L44.2,209.1 L44.8,209.1 L45.4,209.1 L46.0,209.1 L46.6,209.1 L47.2,209.1 L47.8,209.1 L48.4,209.1 L49.0,209.1 L49.6,209.1 L50.2,209.1 L50.8,209.1 L51.4,209.1 L52.0,209.1 L52.6,209.1 L53.2,209.1 L53.8,209.1 L54.4,209.1 L55.0,209.0 L55.6,209.0 L56.2,209.0 L56.8,209.0 L57.4,209.0 L58.0,209.0 L58.6,209.0 L59.2,209.0 L59.8,209.0 L60.0,209.0 L60.4,209.0 L61.0,209.0 L61.6,209.0 L62.2,209.0 L62.8,209.0 L63.4,209.0 L64.0,209.0 L64.6,209.0 L65.2,209.0 L65.8,209.0 L66.4,208.9 L67.0,208.9 L67.6,208.9 L68.2,208.9 L68.8,208.9 L69.4,208.9 L70.0,208.9 L70.6,208.9 L71.2,208.9 L71.8,208.9 L72.4,208.9 L73.0,208.9 L73.6,208.9 L74.2,208.9 L74.8,208.9 L75.4,208.9 L76.0,208.9 L76.6,208.9 L77.2,208.8 L77.8,208.8 L78.4,208.8 L79.0,208.8 L79.6,208.8 L80.0,208.8 L80.2,208.8 L80.8,208.8 L81.4,208.8 L82.0,208.7 L82.6,208.7 L83.2,208.7 L83.8,208.7 L84.4,208.6 L85.0,208.6 L85.1,208.6 L85.6,208.6 L86.2,208.5 L86.8,208.4 L87.4,208.3 L88.0,208.2 L88.6,208.0 L89.2,207.9 L89.8,207.7 L90.4,207.6 L90.9,207.4 L91.0,207.4 L91.6,207.1 L92.2,206.8 L92.8,206.4 L93.4,205.9 L94.0,205.5 L94.6,205.2 L95.2,204.8 L95.3,204.8 L95.8,204.6 L96.4,204.4 L97.0,204.3 L97.6,204.1 L98.2,203.9 L98.8,203.7 L99.4,203.5 L99.6,203.4 L100.0,203.2 L100.6,202.7 L101.2,202.1 L101.8,201.5 L102.4,200.9 L103.0,200.3 L103.3,200.1 L103.6,199.9 L104.2,199.5 L104.8,199.1 L105.4,198.8 L106.0,198.4 L106.6,198.1 L107.2,197.7 L107.6,197.5 L107.8,197.4 L108.4,197.0 L109.0,196.6 L109.6,196.3 L110.2,195.9 L110.8,195.6 L111.4,195.3 L112.0,195.0 L112.0,195.0 L112.6,194.8 L113.2,194.6 L113.8,194.4 L114.4,194.2 L115.0,194.0 L115.6,193.8 L116.0,193.7 L116.2,193.6 L116.8,193.4 L117.4,193.1 L118.0,192.9 L118.6,192.6 L119.2,192.4 L119.6,192.3 L119.8,192.2 L120.4,192.1 L121.0,191.9 L121.6,191.7 L122.2,191.6 L122.8,191.5 L123.0,191.5 L123.4,191.5 L124.0,191.5 L124.6,191.6 L125.2,191.6 L125.8,191.6 L126.4,191.7 L126.6,191.7 L127.0,191.7 L127.6,191.8 L128.2,191.9 L128.8,192.0 L129.4,192.0 L130.0,192.1 L130.3,192.2 L130.6,192.3 L131.2,192.4 L131.8,192.5 L132.4,192.7 L133.0,192.9 L133.6,193.1 L134.2,193.3 L134.8,193.4 L135.4,193.6 L135.4,193.6 L136.0,193.8 L136.6,193.9 L137.2,194.1 L137.8,194.3 L138.4,194.4 L139.0,194.6 L139.6,194.7 L140.2,194.9 L140.8,195.0 L141.2,195.1 L141.4,195.1 L142.0,195.3 L142.6,195.4 L143.2,195.5 L143.8,195.6 L144.4,195.7 L145.0,195.8 L145.6,195.9 L146.2,196.0 L146.8,196.2 L147.0,196.2 L147.4,196.3 L148.0,196.4 L148.6,196.6 L149.2,196.7 L149.8,196.8 L150.4,197.0 L151.0,197.2 L151.0,197.2 L151.6,197.4 L152.2,197.7 L152.8,197.9 L153.4,198.2 L154.0,198.5 L154.6,198.8 L154.6,198.8 L155.2,199.1 L155.8,199.4 L156.4,199.7 L157.0,200.0 L157.6,200.2 L158.2,200.4 L158.7,200.6 L158.8,200.6 L159.4,200.8 L160.0,200.9 L160.6,201.1 L161.2,201.2 L161.8,201.3 L162.4,201.4 L163.0,201.5 L163.6,201.6 L164.2,201.7 L164.5,201.7 L164.8,201.7 L165.4,201.8 L166.0,201.9 L166.6,202.0 L167.2,202.1 L167.8,202.2 L168.4,202.3 L169.0,202.3 L169.6,202.4 L170.2,202.4 L170.8,202.5 L171.4,202.5 L171.8,202.5 L172.0,202.5 L172.6,202.5 L173.2,202.4 L173.8,202.4 L174.4,202.3 L175.0,202.2 L175.6,202.1 L176.2,202.1 L176.8,202.0 L177.4,201.9 L178.0,201.8 L178.6,201.7 L179.1,201.7 L179.2,201.7 L179.8,201.6 L180.4,201.6 L181.0,201.5 L181.6,201.5 L182.2,201.5 L182.8,201.4 L183.4,201.4 L184.0,201.4 L184.2,201.4 L184.6,201.4 L185.2,201.5 L185.8,201.6 L186.4,201.8 L187.0,201.9 L187.6,202.1 L188.2,202.2 L188.8,202.4 L189.4,202.5 L190.0,202.5 L190.0,202.5 L190.6,202.5 L191.2,202.4 L191.8,202.3 L192.4,202.2 L193.0,202.1 L193.6,201.9 L194.2,201.8 L194.8,201.7 L195.4,201.5 L196.0,201.5 L196.6,201.4 L197.0,201.4 L197.2,201.4 L197.8,201.6 L198.4,201.9 L199.0,202.3 L199.6,202.5 L200.0,202.6 L200.2,202.6 L200.8,202.6 L201.4,202.5 L202.0,202.5 L202.6,202.4 L203.2,202.3 L203.8,202.3 L204.4,202.2 L205.0,202.1 L205.6,202.1 L206.2,202.0 L206.8,202.0 L207.0,202.0 L207.4,202.0 L208.0,202.3 L208.6,202.6 L209.2,202.9 L209.8,203.1 L210.0,203.2 L210.4,203.3 L211.0,203.4 L211.6,203.5 L212.2,203.6 L212.8,203.7 L213.4,203.8 L214.0,203.9 L214.6,204.0 L215.2,204.0 L215.8,204.1 L216.4,204.2 L217.0,204.2 L217.6,204.3 L218.2,204.4 L218.8,204.4 L219.4,204.5 L220.0,204.6 L220.0,204.6 L220.6,204.7 L221.2,204.8 L221.8,204.9 L222.4,205.0 L223.0,205.1 L223.6,205.2 L224.2,205.3 L224.8,205.3 L225.4,205.4 L226.0,205.5 L226.6,205.6 L227.2,205.7 L227.8,205.8 L228.4,205.8 L229.0,205.9 L229.6,206.0 L230.0,206.0 L230.2,206.0 L230.8,206.1 L231.4,206.1 L232.0,206.1 L232.6,206.2 L233.2,206.2 L233.8,206.3 L234.4,206.3 L235.0,206.3 L235.6,206.4 L236.2,206.4 L236.8,206.4 L237.4,206.5 L238.0,206.5 L238.6,206.5 L239.2,206.6 L239.8,206.6 L240.4,206.6 L241.0,206.6 L241.6,206.7 L242.2,206.7 L242.8,206.7 L243.4,206.7 L244.0,206.8 L244.6,206.8 L245.2,206.8 L245.8,206.8 L246.4,206.9 L247.0,206.9 L247.6,206.9 L248.2,206.9 L248.8,207.0 L249.4,207.0 L250.0,207.0 L250.0,207.0 L250.6,207.0 L251.2,207.0 L251.8,207.1 L252.4,207.1 L253.0,207.1 L253.6,207.1 L254.2,207.1 L254.8,207.2 L255.4,207.2 L256.0,207.2 L256.6,207.2 L257.2,207.2 L257.8,207.3 L258.4,207.3 L259.0,207.3 L259.6,207.3 L260.2,207.3 L260.8,207.4 L261.4,207.4 L262.0,207.4 L262.6,207.4 L263.2,207.4 L263.8,207.4 L264.4,207.5 L265.0,207.5 L265.6,207.5 L266.2,207.5 L266.8,207.5 L267.4,207.5 L268.0,207.6 L268.6,207.6 L269.2,207.6 L269.8,207.6 L270.0,207.6 L270.4,207.6 L271.0,207.6 L271.6,207.6 L272.2,207.7 L272.8,207.7 L273.4,207.7 L274.0,207.7 L274.6,207.7 L275.2,207.7 L275.8,207.7 L276.4,207.7 L277.0,207.8 L277.6,207.8 L278.2,207.8 L278.8,207.8 L279.4,207.8 L280.0,207.8 L280.6,207.8 L281.2,207.8 L281.8,207.8 L282.4,207.9 L283.0,207.9 L283.6,207.9 L284.2,207.9 L284.8,207.9 L285.4,207.9 L286.0,207.9 L286.6,207.9 L287.2,207.9 L287.8,208.0 L288.4,208.0 L289.0,208.0 L289.6,208.0 L290.0,208.0 L290.2,208.0 L290.8,208.0 L291.4,208.0 L292.0,208.0 L292.6,208.1 L293.2,208.1 L293.8,208.1 L294.4,208.1 L295.0,208.1 L295.6,208.1 L296.2,208.1 L296.8,208.1 L297.4,208.1 L298.0,208.2 L298.6,208.2 L299.2,208.2 L299.8,208.2 L300.4,208.2 L301.0,208.2 L301.6,208.2 L302.2,208.2 L302.8,208.2 L303.4,208.3 L304.0,208.3 L304.6,208.3 L305.2,208.3 L305.8,208.3 L306.4,208.3 L307.0,208.3 L307.6,208.3 L308.2,208.4 L308.8,208.4 L309.4,208.4 L310.0,208.4 L310.0,208.4 L310.6,208.4 L311.2,208.4 L311.8,208.4 L312.4,208.5 L313.0,208.5 L313.6,208.5 L314.2,208.5 L314.8,208.5 L315.4,208.6 L316.0,208.6 L316.6,208.6 L317.2,208.6 L317.8,208.6 L318.4,208.7 L319.0,208.7 L319.6,208.7 L320.2,208.7 L320.8,208.8 L321.4,208.8 L322.0,208.8 L322.6,208.8 L323.2,208.8 L323.8,208.9 L324.4,208.9 L325.0,208.9 L325.6,208.9 L326.2,209.0 L326.8,209.0 L327.4,209.0 L328.0,209.0 L328.6,209.0 L329.2,209.1 L329.8,209.1 L330.4,209.1 L331.0,209.1 L331.6,209.1 L332.2,209.1 L332.8,209.2 L333.4,209.2 L334.0,209.2 L334.6,209.2 L335.2,209.2 L335.8,209.2 L336.4,209.3 L337.0,209.3 L337.6,209.3 L338.2,209.3 L338.8,209.3 L339.4,209.3 L340.0,209.3 L340.0,209.3 L340.6,209.3 L341.2,209.3 L341.8,209.3 L342.4,209.3 L343.0,209.3 L343.6,209.3 L344.2,209.3 L344.8,209.3 L345.4,209.3 L346.0,209.3 L346.6,209.3 L347.2,209.4 L347.8,209.4 L348.4,209.4 L349.0,209.4 L349.6,209.4 L350.2,209.4 L350.8,209.4 L351.4,209.4 L352.0,209.4 L352.6,209.4 L353.2,209.4 L353.8,209.4 L354.4,209.4 L355.0,209.4 L355.6,209.4 L356.2,209.4 L356.8,209.4 L357.4,209.4 L358.0,209.4 L358.6,209.4 L359.2,209.4 L359.8,209.4 L360.0,209.4 L360.4,209.4 L361.0,209.4 L361.6,209.4 L362.2,209.4 L362.8,209.4 L363.4,209.4 L364.0,209.4 L364.6,209.3 L365.2,209.3 L365.8,209.3 L366.4,209.3 L367.0,209.3 L367.6,209.3 L368.2,209.2 L368.8,209.2 L369.4,209.2 L370.0,209.2 L370.0,209.2 L370.6,209.2 L371.2,209.2 L371.8,209.2 L372.4,209.1 L373.0,209.1 L373.6,209.1 L374.2,209.1 L374.8,209.1 L375.4,209.0 L375.9,209.0 L376.0,209.0 L376.6,208.8 L377.2,208.6 L377.8,208.2 L378.4,207.8 L378.6,207.7 L379.0,207.4 L379.6,206.9 L380.2,206.2 L380.8,205.5 L381.4,204.7 L381.4,204.7 L382.0,203.8 L382.6,202.7 L383.2,201.3 L383.6,200.3 L383.8,199.7 L384.4,197.3 L384.7,195.9 L385.0,194.4 L385.5,191.5 L385.6,190.8 L386.2,186.0 L386.2,186.0 L386.8,175.8 L387.4,163.0 L387.7,158.0 L388.0,154.6 L388.5,149.0 L388.6,147.2 L389.2,132.5 L389.3,131.0 L389.8,126.3 L390.4,122.2 L390.6,120.6 L391.0,115.7 L391.5,111.5 L391.6,111.6 L392.2,116.3 L392.6,120.6 L392.8,122.7 L393.4,129.8 L393.5,131.0 L394.0,137.1 L394.6,144.6 L395.0,149.0 L395.2,150.9 L395.8,156.0 L396.0,158.0 L396.4,163.1 L397.0,172.0 L397.6,179.0 L397.6,179.0 L398.2,182.8 L398.5,184.4 L398.8,186.0 L399.4,188.9 L399.8,190.7 L400.0,191.6 L400.6,194.2 L401.2,196.5 L401.4,197.1 L401.8,198.1 L402.4,199.3 L403.0,200.3 L403.0,200.3 L403.6,201.1 L404.2,201.7 L404.8,202.2 L405.2,202.5 L405.4,202.6 L406.0,202.9 L406.6,203.1 L407.1,203.2 L407.2,203.2 L407.8,202.7 L408.4,201.6 L409.0,200.1 L409.2,199.5 L409.6,197.2 L410.2,191.2 L410.8,184.4 L411.0,182.4 L411.4,178.3 L412.0,172.2 L412.5,169.3 L412.6,169.1 L413.2,167.9 L413.8,167.4 L413.8,167.4 L414.4,168.8 L415.0,170.4 L415.1,170.5 L415.6,168.4 L416.0,165.5 L416.2,164.0 L416.8,158.4 L417.4,155.3 L417.4,155.3 L418.0,158.4 L418.6,164.5 L418.7,165.5 L419.2,172.3 L419.6,175.6 L419.8,175.3 L420.4,172.3 L420.8,171.2 L421.0,171.5 L421.6,175.0 L422.2,180.5 L422.4,182.3 L422.8,186.8 L423.4,194.1 L423.6,195.5 L424.0,197.4 L424.6,199.6 L425.1,200.3 L425.2,200.2 L425.8,198.5 L426.4,196.2 L426.5,196.0 L427.0,195.1 L427.6,194.2 L428.0,194.0 L428.2,194.2 L428.8,195.9 L429.4,198.0 L429.4,198.0 L430.0,199.6 L430.3,200.5 L430.6,201.9 L431.2,204.5 L431.2,204.5 L431.8,205.6 L432.4,206.2 L432.5,206.2 L433.0,206.1 L433.6,205.9 L434.2,205.5 L434.8,205.1 L435.4,204.7 L435.8,204.4 L436.0,204.3 L436.6,204.0 L437.2,203.7 L437.8,203.2 L438.4,202.5 L438.4,202.5 L439.0,198.7 L439.6,192.9 L439.6,192.9 L440.2,186.8 L440.8,182.4 L440.9,182.3 L441.4,182.7 L442.0,183.6 L442.2,184.0 L442.6,185.1 L443.2,187.0 L443.5,187.4 L443.8,185.1 L444.4,175.2 L444.5,174.0 L445.0,168.6 L445.6,164.3 L445.7,164.2 L446.2,166.3 L446.8,171.1 L446.9,171.8 L447.4,174.9 L447.9,178.5 L448.0,179.4 L448.6,186.1 L448.8,188.0 L449.2,191.0 L449.6,193.5 L449.8,194.7 L450.4,198.2 L450.8,200.0 L451.0,200.8 L451.6,203.1 L452.2,204.5 L452.4,204.6 L452.8,204.5 L453.4,204.1 L454.0,203.7 L454.6,203.4 L454.9,203.3 L455.2,203.4 L455.8,203.8 L456.4,204.3 L456.8,204.4 L457.0,204.3 L457.6,203.4 L458.2,202.5 L458.3,202.5 L458.8,203.0 L459.4,204.5 L460.0,205.6 L460.0,205.6 L460.6,206.2 L461.2,206.7 L461.8,206.9 L461.9,206.9 L462.4,206.5 L463.0,205.3 L463.6,204.0 L463.8,203.7 L464.2,203.0 L464.8,202.0 L465.4,201.3 L465.7,201.2 L466.0,201.2 L466.6,201.5 L467.2,201.7 L467.6,201.8 L467.8,201.8 L468.4,201.5 L469.0,201.1 L469.6,200.5 L470.2,199.9 L470.2,199.9 L470.8,199.2 L471.4,198.4 L472.0,197.6 L472.6,196.8 L472.7,196.7 L473.2,196.2 L473.8,195.7 L474.4,195.2 L475.0,194.6 L475.3,194.2 L475.6,193.7 L476.2,192.2 L476.8,190.3 L477.2,189.1 L477.4,188.4 L478.0,185.9 L478.6,183.5 L479.1,182.7 L479.2,182.7 L479.8,183.7 L480.4,185.3 L480.4,185.3 L481.0,187.5 L481.6,190.2 L481.9,191.6 L482.2,193.1 L482.8,196.5 L483.4,199.4 L483.8,200.5 L484.0,200.8 L484.6,201.5 L485.2,202.1 L485.8,202.5 L486.4,202.9 L487.0,203.3 L487.6,203.7 L487.6,203.7 L488.2,204.1 L488.8,204.6 L489.4,205.0 L490.0,205.4 L490.6,205.8 L491.2,206.1 L491.5,206.3 L491.8,206.5 L492.4,206.9 L493.0,207.2 L493.6,207.4 L494.0,207.5 L494.2,207.4 L494.8,206.8 L495.4,205.7 L496.0,204.7 L496.5,204.4 L496.6,204.4 L497.2,204.9 L497.8,206.0 L498.4,207.2 L499.0,208.3 L499.6,208.8 L499.7,208.8 L500.2,208.6 L500.8,207.9 L501.4,207.1 L502.0,206.2 L502.6,205.7 L502.9,205.6 L503.2,205.6 L503.8,206.0 L504.4,206.5 L505.0,207.2 L505.6,207.9 L506.2,208.5 L506.7,208.8 L506.8,208.8 L507.4,209.1 L508.0,209.3 L508.6,209.5 L509.2,209.6 L509.8,209.8 L510.4,210.1 L510.5,210.1 L511.0,210.4 L511.6,210.9 L512.2,211.5 L512.8,211.9 L513.3,212.0 L513.4,212.0 L514.0,211.4 L514.6,210.2 L515.2,208.9 L515.8,207.8 L516.3,207.5 L516.4,207.5 L517.0,207.5 L517.6,207.5 L518.2,207.5 L518.8,207.5 L518.8,207.5 L519.4,206.9 L520.0,205.5 L520.6,203.8 L521.2,202.2 L521.8,201.3 L522.0,201.2 L522.4,201.6 L523.0,203.1 L523.6,205.1 L524.2,206.9 L524.5,207.5 L524.8,207.9 L525.4,208.8 L526.0,209.5 L526.6,210.0 L527.1,210.1 L527.2,210.1 L527.8,209.9 L528.4,209.6 L529.0,209.1 L529.6,208.4 L530.2,207.6 L530.3,207.5 L530.8,206.3 L531.4,204.0 L532.0,202.1 L532.2,201.8 L532.6,201.4 L533.2,200.9 L533.8,200.5 L534.4,200.3 L534.7,200.3 L535.0,200.6 L535.6,202.2 L536.2,204.4 L536.6,205.6 L536.8,206.1 L537.4,207.7 L538.0,209.1 L538.5,209.5 L538.6,209.5 L539.2,208.9 L539.8,208.1 L540.4,207.5 L540.5,207.5 L541.0,207.5 L541.6,207.5 L542.0,207.5"/>
</g>
<g stroke="#ff0000" stroke-width="2.9" fill="none">
<path d="M401.9,144.6 H432 M401.9,212.5 H430.8"/>
<path d="M403.35,143.2 V160.5 M403.35,175.1 V190.4 M403.35,205 V215.8"/>
<path d="M429.45,143.2 V160.7 M429.45,175.1 V190.5 M429.45,205.1 V214.5"/>
<path d="M435.7,157.4 H456.9 M436,210.2 H457.8"/>
<path d="M437.1,156 V172.6 M437.1,187.3 V203.4"/>
<path d="M454.5,156 V171.9 M454.5,186.6 V202.6"/>
</g>
<g stroke="#000" stroke-width="2.3" fill="none">
<path d="M128.3,11.2 V21.6 M128.3,31.8 V42.1 M128.3,52.3 V62.7 M128.3,72.9 V83.3 M128.3,93.4 V103.8 M128.3,114.0 V124.4 M128.3,134.5 V144.9 M128.3,155.0 V165.4 M128.3,175.6 V186.0 M128.3,196.2 V206.6 M128.3,216.7 V227.1 M128.3,237.2 V247.7 M128.3,257.8 V268.2 M128.3,278.4 V288.8 M128.3,298.9 V309.3 M128.3,319.4 V329.8 M128.3,340.0 V350.4 M128.3,360.6 V370.9 M128.3,381.1 V391.5 M128.3,401.6 V411.0"/>
<path d="M391.6,6.9 V17.7 M391.6,27.5 V38.2 M391.6,48.0 V58.8 M391.6,68.6 V79.4 M391.6,89.1 V99.9 M391.6,109.7 V120.5 M391.6,130.2 V141.0 M391.6,150.8 V161.6 M391.6,171.3 V182.1 M391.6,191.9 V202.7 M391.6,212.4 V223.2 M391.6,233.0 V243.8 M391.6,253.5 V264.3 M391.6,274.1 V284.9 M391.6,294.6 V305.4 M391.6,315.1 V325.9 M391.6,335.7 V346.5 M391.6,356.2 V367.1 M391.6,376.8 V387.6 M391.6,397.3 V408.1"/>
<path d="M476.0,6.9 V17.7 M476.0,27.5 V38.2 M476.0,48.0 V58.8 M476.0,68.6 V79.4 M476.0,89.1 V99.9 M476.0,109.7 V120.5 M476.0,130.2 V141.0 M476.0,150.8 V161.6 M476.0,171.3 V182.1 M476.0,191.9 V202.7 M476.0,212.4 V223.2 M476.0,233.0 V243.8 M476.0,253.5 V264.3 M476.0,274.1 V284.9 M476.0,294.6 V305.4 M476.0,315.1 V325.9 M476.0,335.7 V346.5 M476.0,356.2 V367.1 M476.0,376.8 V387.6 M476.0,397.3 V408.1"/>
</g>
<g stroke="#000" stroke-width="2" fill="none">
<rect x="37.2" y="6.8" width="505.59999999999997" height="404.8"/>
<path d="M37.2,411.6 V419.4 M111.5,411.6 V419.4 M185.7,411.6 V419.4 M260.0,411.6 V419.4 M334.3,411.6 V419.4 M408.5,411.6 V419.4 M482.8,411.6 V419.4 M74.3,411.6 V416.0 M148.6,411.6 V416.0 M222.9,411.6 V416.0 M297.1,411.6 V416.0 M371.4,411.6 V416.0 M445.7,411.6 V416.0 M519.9,411.6 V416.0"/>
</g>
<g class="ser" font-size="19" text-anchor="middle">
<text transform="translate(37.2,438.9) scale(0.915,1)">4000</text>
<text transform="translate(111.5,438.9) scale(0.915,1)">3500</text>
<text transform="translate(185.7,438.9) scale(0.915,1)">3000</text>
<text transform="translate(260.0,438.9) scale(0.915,1)">2500</text>
<text transform="translate(334.3,438.9) scale(0.915,1)">2000</text>
<text transform="translate(408.5,438.9) scale(0.915,1)">1500</text>
<text transform="translate(482.8,438.9) scale(0.915,1)">1000</text>
</g>
<g class="ser" font-size="18.4" letter-spacing="0.25">
<text x="46.3" y="236.4">3378.03</text>
<text x="328.4" y="116.1" letter-spacing="0.12">1635.12</text>
<text x="397.6" y="133.9">1446</text>
<text x="431.4" y="150.1" letter-spacing="-0.15">1255</text>
<text x="478.8" y="237.7" letter-spacing="0.12">1061.02</text>
</g>
<g class="ser" font-size="20.6">
<text x="203.6" y="196.8" letter-spacing="0.1">IP-ZrO<tspan font-size="13.4" dy="5">2</tspan><tspan dy="-5">/BC-NF</tspan></text>
<text x="230.3" y="284.6" letter-spacing="0.28">ZrO<tspan font-size="13.4" dy="5">2</tspan><tspan dy="-5">/BCM</tspan></text>
<text x="259" y="358.9" letter-spacing="0.4">BCM</text>
</g>
<text class="ser" font-weight="bold" font-size="25.6" letter-spacing="1.0" style="font-kerning:none" transform="translate(196.8,465.7) scale(0.915,1)" dx="0 -1.4">Wavenumber(cm<tspan font-size="17.6" dy="-9.4" dx="1.3">-1</tspan><tspan dy="9.4" dx="-1.7">)</tspan></text>
<g class="san" transform="translate(26.7,282.6) rotate(-90)">
<text font-size="21.4" x="0.4 16.25 28.43 39.52 52.1 58.92 73.1 85.7 99.57 112.17" y="0">Absorbance</text>
<text font-size="23" x="125.3" y="0.5">（</text>
<text font-size="25.5" style="font-family:'Liberation Mono',monospace" stroke="#000" stroke-width="0.5" transform="translate(150.9,0.6) scale(0.76,1)">%</text>
<text font-size="23" x="163.6" y="0.5">）</text>
</g>
</svg></body></html>
